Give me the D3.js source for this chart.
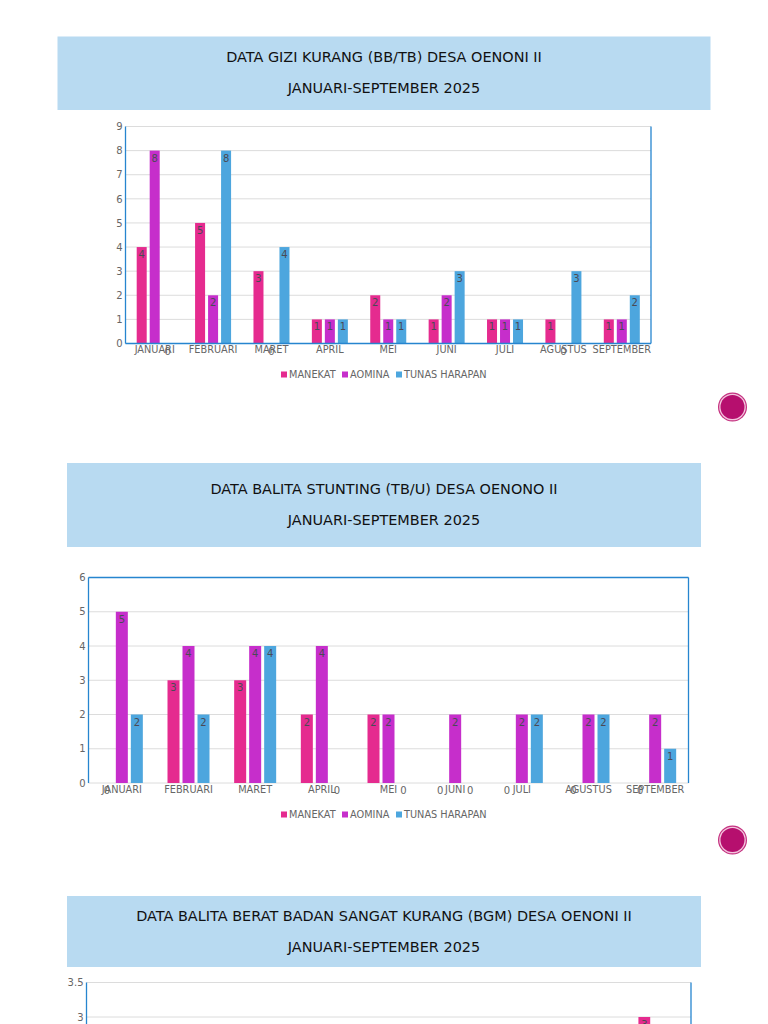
<!DOCTYPE html>
<html>
<head>
<meta charset="utf-8">
<script src="https://cdn.jsdelivr.net/npm/d3@7"></script>
<style>
  html, body { margin: 0; padding: 0; background: #fff; overflow: hidden; }
  svg { display: block; font-family: "DejaVu Sans", sans-serif; }
</style>
</head>
<body>
<svg id="page" width="768" height="1024"></svg>
<script>
const months = ["JANUARI", "FEBRUARI", "MARET", "APRIL", "MEI", "JUNI", "JULI", "AGUSTUS", "SEPTEMBER"];
const posyandu = ["MANEKAT", "AOMINA", "TUNAS HARAPAN"];
const posyanduColors = ["#e52b8f", "#c62ecb", "#4da6de"];

const giziManekat = [4, 5, 3, 1, 2, 1, 1, 1, 1];
const giziAomina = [8, 2, 0, 1, 1, 2, 1, 0, 1];
const giziTunas = [0, 8, 4, 1, 1, 3, 1, 3, 2];

const stuntingManekat = [0, 3, 3, 2, 2, 0, 0, 0, 0];
const stuntingAomina = [5, 4, 4, 4, 2, 2, 2, 2, 2];
const stuntingTunas = [2, 2, 4, 0, 0, 0, 2, 2, 1];

// Only the September bar of this chart rises into the page area
const bgmManekat = [null, null, null, null, null, null, null, null, 3];
const bgmAomina = [null, null, null, null, null, null, null, null, null];
const bgmTunas = [null, null, null, null, null, null, null, null, null];

const giziTicks = [0, 1, 2, 3, 4, 5, 6, 7, 8, 9];
const stuntingTicks = [0, 1, 2, 3, 4, 5, 6];
const bgmTicks = [3, 3.5];

const svg = d3.select("#page");
const PAGE_HEIGHT = 1024;
const AXIS_BLUE = "#2685cf", GRID = "#dcdcdc", INK = "#666666";

function banner(x, y, w, h, lines, baselines) {
  svg.append("rect").attr("x", x).attr("y", y).attr("width", w).attr("height", h).attr("fill", "#b8daf1");
  lines.forEach((t, i) => {
    svg.append("text").attr("x", x + w / 2).attr("y", baselines[i])
      .attr("text-anchor", "middle").attr("font-size", 14.45).attr("fill", "#111").text(t);
  });
}

function barChart(o) {
  const g = svg.append("g");
  const x = d3.scaleBand().domain(months).range([o.left, o.right]);
  const y = d3.scaleLinear().domain(o.domain).range([o.bottom, o.top]);
  const inner = d3.scaleBand().domain(posyandu)
    .range([-o.clusterWidth / 2, o.clusterWidth / 2]).paddingInner(o.gap);

  // Horizontal grid
  g.append("g").selectAll("line").data(o.ticks).join("line")
    .attr("x1", o.left).attr("x2", o.right)
    .attr("y1", d => y(d)).attr("y2", d => y(d))
    .attr("stroke", GRID).attr("stroke-width", 1);

  // One group of bars per posyandu
  o.series.forEach((values, si) => {
    const name = posyandu[si];
    const rows = values.map((v, i) => ({ v, month: months[i] })).filter(d => d.v !== null);
    const cx = d => x(d.month) + x.bandwidth() / 2 + inner(name) + inner.bandwidth() / 2;

    g.append("g").selectAll("rect").data(rows).join("rect")
      .attr("x", d => cx(d) - inner.bandwidth() / 2)
      .attr("y", d => y(d.v))
      .attr("width", inner.bandwidth())
      .attr("height", d => y(0) - y(d.v))
      .attr("fill", posyanduColors[si]);

    g.append("g").selectAll("text").data(rows).join("text")
      .attr("x", cx)
      .attr("y", d => d.v === 0 ? o.bottom + 11 : y(d.v) + 11)
      .attr("text-anchor", "middle")
      .attr("font-size", 10)
      .attr("fill", d => d.v === 0 ? INK : "#4a4a55")
      .text(d => d.v);
  });

  // Value axis labels
  const yAxis = g.append("g").attr("transform", `translate(${o.left},0)`)
    .call(d3.axisLeft(y).tickValues(o.ticks).tickSize(0).tickPadding(3).tickFormat(d3.format("~g")));
  yAxis.select(".domain").remove();
  yAxis.selectAll("text").attr("font-size", 10).attr("font-family", "DejaVu Sans").attr("fill", INK);

  // Month labels, skipped when the baseline runs past the page end
  if (o.bottom < PAGE_HEIGHT) {
    const xAxis = g.append("g").attr("transform", `translate(0,${o.bottom})`)
      .call(d3.axisBottom(x).tickSize(0).tickPadding(3));
    xAxis.select(".domain").remove();
    xAxis.selectAll("text").attr("font-size", 9.75).attr("font-family", "DejaVu Sans").attr("fill", INK);
  }

  // Frame edges that are coloured differently per chart
  const edge = (x1, y1, x2, y2) => g.append("line")
    .attr("x1", x1).attr("y1", y1).attr("x2", x2).attr("y2", y2)
    .attr("stroke", AXIS_BLUE).attr("stroke-width", 1.3);
  edge(o.left, o.top, o.left, o.bottom);
  edge(o.right, o.top, o.right, o.bottom);
  if (o.blueBottom) edge(o.left, o.bottom, o.right, o.bottom);
  if (o.blueTop) edge(o.left, o.top, o.right, o.top);

  if (o.legendY) legend(o.legendY);
}

function legend(yPos) {
  const squares = [281, 342, 396];
  const labels = [289, 350, 404];
  posyandu.forEach((name, i) => {
    svg.append("rect").attr("x", squares[i]).attr("y", yPos - 3).attr("width", 6).attr("height", 6)
      .attr("fill", posyanduColors[i]);
    svg.append("text").attr("x", labels[i]).attr("y", yPos + 3.5)
      .attr("font-size", 9.75).attr("fill", INK).text(name);
  });
}

function badge(cx, cy) {
  svg.append("circle").attr("cx", cx).attr("cy", cy).attr("r", 14.5).attr("fill", "#c4307f");
  svg.append("circle").attr("cx", cx).attr("cy", cy).attr("r", 13.3).attr("fill", "#f3c6de");
  svg.append("circle").attr("cx", cx).attr("cy", cy).attr("r", 12).attr("fill", "#b60f6e");
}

banner(57.5, 36.5, 653, 73.5,
  ["DATA GIZI KURANG (BB/TB) DESA OENONI II", "JANUARI-SEPTEMBER 2025"], [62, 93]);
barChart({
  left: 125.5, right: 651, top: 126.5, bottom: 343.5,
  domain: [0, 9], ticks: giziTicks,
  series: [giziManekat, giziAomina, giziTunas],
  clusterWidth: 36, gap: 0.23,
  blueBottom: true, blueTop: false, legendY: 374.5
});
badge(732.5, 407);

banner(67, 463, 634, 84,
  ["DATA BALITA STUNTING (TB/U) DESA OENONO II", "JANUARI-SEPTEMBER 2025"], [494, 525]);
barChart({
  left: 88.5, right: 688.5, top: 577.5, bottom: 783,
  domain: [0, 6], ticks: stuntingTicks,
  series: [stuntingManekat, stuntingAomina, stuntingTunas],
  clusterWidth: 42, gap: 0.2,
  blueBottom: false, blueTop: true, legendY: 814.5
});
badge(732.5, 840);

banner(67, 896, 634, 71,
  ["DATA BALITA BERAT BADAN SANGAT KURANG (BGM) DESA OENONI II", "JANUARI-SEPTEMBER 2025"], [921, 952]);
barChart({
  left: 86.5, right: 691, top: 982.5, bottom: 1224,
  domain: [0, 3.5], ticks: bgmTicks,
  series: [bgmManekat, bgmAomina, bgmTunas],
  clusterWidth: 38, gap: 0.1,
  blueBottom: false, blueTop: false, legendY: null
});
</script>
</body>
</html>
